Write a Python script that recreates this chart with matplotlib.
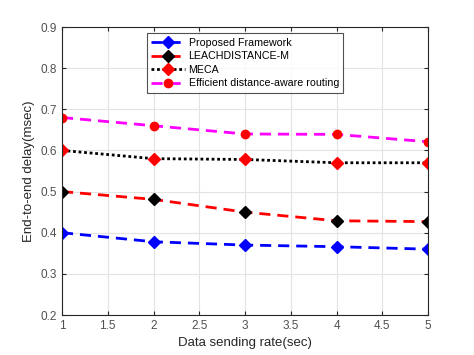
import matplotlib
matplotlib.use("Agg")
import matplotlib.pyplot as plt

plt.rcParams['font.family'] = ['Liberation Sans', 'DejaVu Sans']

x = [1, 2, 3, 4, 5]
proposed = [0.40, 0.378, 0.37, 0.366, 0.36]
leach = [0.50, 0.481, 0.45, 0.429, 0.427]
meca = [0.60, 0.58, 0.578, 0.570, 0.570]
efficient = [0.68, 0.66, 0.64, 0.639, 0.621]

labels = ["Proposed Framework", "LEACHDISTANCE-M", "MECA",
          "Efficient distance-aware routing"]

fig = plt.figure(figsize=(4.74, 3.55), dpi=100)
ax = fig.add_axes([62/474, 1 - 315/355, 366/474, 288/355])

ax.plot(x, proposed, linestyle=(0, (4, 2.5)), color="blue", lw=2,
        marker="D", ms=6, mfc="blue", mec="blue", label=labels[0])
ax.plot(x, leach, linestyle=(0, (4, 2.5)), color="red", lw=2,
        marker="D", ms=6, mfc="black", mec="black", label=labels[1])
ax.plot(x, meca, linestyle=(0, (1, 1)), color="black", lw=2,
        marker="D", ms=6, mfc="red", mec="red", label=labels[2])
ax.plot(x, efficient, linestyle=(0, (4, 2.5)), color="magenta", lw=2,
        marker="o", ms=6, mfc="red", mec="red", label=labels[3])

ax.set_xlim(1, 5)
ax.set_ylim(0.2, 0.9)
ax.set_xticks([1, 1.5, 2, 2.5, 3, 3.5, 4, 4.5, 5])
ax.set_xticklabels(["1", "1.5", "2", "2.5", "3", "3.5", "4", "4.5", "5"])
ax.set_yticks([0.2, 0.3, 0.4, 0.5, 0.6, 0.7, 0.8, 0.9])
ax.grid(True, color="#e3e3e3", lw=0.8)
ax.set_axisbelow(True)
for s in ax.spines.values():
    s.set_color("#262626")
    s.set_linewidth(0.8)
ax.tick_params(labelsize=8.5, colors="#505050", direction="in", length=3,
               top=True, right=True)
ax.tick_params(color="#262626")
ax.set_xlabel("Data sending rate(sec)", fontsize=9.5, color="#262626")
ax.set_ylabel("End-to-end delay(msec)", fontsize=9.5, color="#262626")

leg = ax.legend(loc="upper center", bbox_to_anchor=(0.5, 0.985), fontsize=7.7,
                frameon=True, fancybox=False, edgecolor="#262626",
                borderpad=0.4, labelspacing=0.33, handlelength=3.2,
                handletextpad=0.3, borderaxespad=0.2)
leg.get_frame().set_linewidth(0.8)

fig.savefig("out.png", dpi=100)
